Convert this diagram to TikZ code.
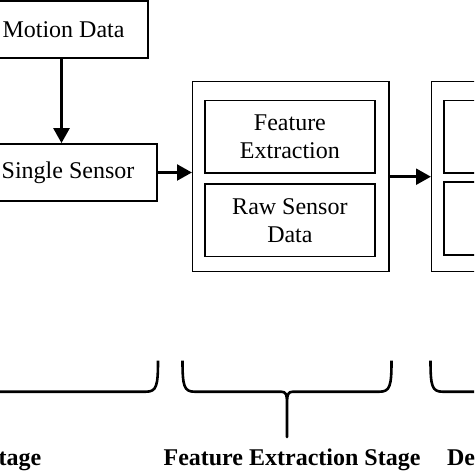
\documentclass[tikz,border=0pt]{standalone}
\usepackage{fontspec}
\setmainfont{Liberation Serif}
\usetikzlibrary{arrows.meta, positioning, calc}

\begin{document}
\begin{tikzpicture}[x=0.5pt, y=-0.5pt,
  sbox/.style={draw, line width=0.8pt, inner sep=0pt, align=center, font=\fontsize{12}{13.8}\selectfont},
  obox/.style={draw, line width=0.7pt, inner sep=0pt, minimum width=98.2pt, minimum height=95pt},
  ibox/.style={sbox, minimum width=84.8pt, minimum height=36.3pt},
  flow/.style={line width=1.7pt, -{Triangle[length=7.5pt, width=7.8pt]}},
  bracepath/.style={line width=1.3pt, line join=round},
  stagelbl/.style={font=\fontsize{12}{14}\selectfont\bfseries, inner sep=0pt}
]
  \useasboundingbox (0,0) rectangle (474,474);
  \clip (0,0) rectangle (474,474);

  \node[sbox, minimum width=84.5pt, minimum height=28.5pt] (motion) at (63.5,29.5) {Motion Data};
  \node[sbox, minimum width=89pt, minimum height=28.5pt] (sensor) at (68,172.5) {Single Sensor};

  \node[obox] (fe) at (290.9,176.7) {};
  \node[ibox] (feat) at (289.9,136.9) {Feature\\Extraction};
  \node[ibox] (raw) at (289.9,220.4) {Raw Sensor\\Data};

  \node[obox] (de) at (529.9,176.7) {};
  \node[ibox] (deA) at (528.9,136.9) {};
  \node[ibox] (deB) at (528.9,218.6) {};

  \draw[flow] ([xshift=-1pt]motion.south) -- ([xshift=-1pt]motion.south |- sensor.north);
  \draw[flow] (sensor.east) -- (sensor.east -| fe.west);
  \draw[flow] (fe.east) -- (de.west);

  \draw[bracepath] (-240,360.7) .. controls (-240,386) and (-238.5,391.7) .. (-228,391.7) -- (-47,391.7)
    .. controls (-42,391.7) and (-41,394) .. (-41,405) -- (-41,437) -- (-41,405)
    .. controls (-41,394) and (-40,391.7) .. (-35,391.7) -- (146,391.7)
    .. controls (156.5,391.7) and (158,386) .. (158,360.7);
  \draw[bracepath] (182.5,360.7) .. controls (182.5,386) and (184,391.7) .. (194.5,391.7) -- (281,391.7)
    .. controls (286,391.7) and (287,394) .. (287,405) -- (287,437) -- (287,405)
    .. controls (287,394) and (288,391.7) .. (293,391.7) -- (379.5,391.7)
    .. controls (390,391.7) and (391.5,386) .. (391.5,360.7);
  \draw[bracepath] (430.5,360.7) .. controls (430.5,386) and (432,391.7) .. (442.5,391.7) -- (620,391.7);

  \node[stagelbl, anchor=base east] (acqlbl) at (41.7,465) {tage};
  \node[stagelbl, anchor=base] (felbl) at (292,465) {Feature Extraction Stage};
  \node[stagelbl, anchor=base west] (delbl) at (446.7,465) {De};
\end{tikzpicture}
\end{document}
